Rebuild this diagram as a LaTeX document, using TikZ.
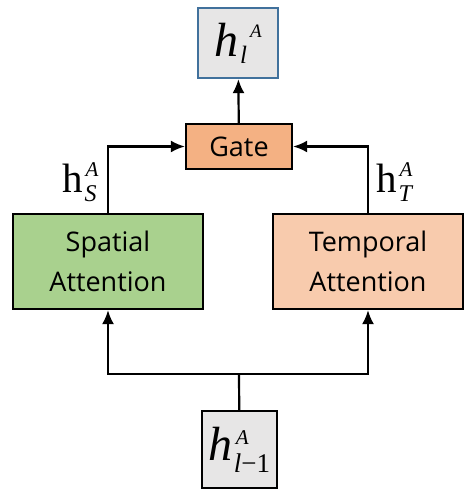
\documentclass[tikz,border=0pt]{standalone}
\usepackage{fontspec}
\setmainfont{Open Sans}
\newfontfamily\tnr{Liberation Serif}
\usetikzlibrary{arrows.meta}
\definecolor{gateOrange}{HTML}{F4B183}
\definecolor{spatGreen}{HTML}{A9D18E}
\definecolor{tempPeach}{HTML}{F8CBAD}
\definecolor{boxGray}{HTML}{E7E6E6}
\definecolor{boxBlue}{HTML}{41719C}
\newcommand{\fs}[1]{\fontsize{#1}{#1}\selectfont}
\begin{document}
\begin{tikzpicture}
        [x=1pt, y=1pt,
        block/.style={rectangle, draw, line width=2.2pt, inner sep=0pt, align=center, font=\fontsize{27}{40}\selectfont},
        hbox/.style={rectangle, draw, line width=2.2pt, inner sep=0pt, fill=boxGray, font=\tnr},
        lbl/.style={inner sep=0pt, font=\tnr},
        link/.style={line width=2.2pt},
        arrow/.style={line width=2.2pt, -{Latex[length=14pt,width=12pt]}}]
        \useasboundingbox (0,0) rectangle (474,497);
        \node[hbox, draw=boxBlue, minimum width=80pt, minimum height=70pt] (out) at (238,454)
            {{\fs{48}\itshape h}\kern2pt\raisebox{-7pt}{\fs{25}\itshape l}\kern3pt\raisebox{19pt}{\fs{19}\itshape A}};
        \node[block, fill=gateOrange, minimum width=106pt, minimum height=45pt] (gate) at (239,350.5) {Gate};
        \node[block, fill=spatGreen, minimum width=190pt, minimum height=95pt] (spat) at (108,235.5) {Spatial\\Attention};
        \node[block, fill=tempPeach, minimum width=190pt, minimum height=95pt] (temp) at (368,235.5) {Temporal\\Attention};
        \node[hbox, minimum width=75pt, minimum height=77pt] (in) at (239.5,47.5)
            {{\fs{48}\itshape h}\kern1pt\rlap{\raisebox{16pt}{\fs{21}\kern2pt\itshape A}}\raisebox{-12pt}{\fs{27}{\itshape l}−1}\raisebox{-6pt}{}};
        \coordinate (split) at (239,123);
        \node[lbl, anchor=base west] (hS) at (62,304)
            {{\fs{41}h}\rlap{\raisebox{16pt}{\fs{21}\kern3pt\itshape A}}\raisebox{-9pt}{\fs{24}\kern2pt\itshape S}};
        \node[lbl, anchor=base west] (hT) at (376,304)
            {{\fs{41}h}\rlap{\raisebox{16pt}{\fs{21}\kern3pt\itshape A}}\raisebox{-9pt}{\fs{24}\kern2pt\itshape T}};

        \draw[arrow] (gate) -- (out);
        \draw[arrow] (spat) |- (gate);
        \draw[arrow] (temp) |- (gate);
        \draw[link] (in) -- (split);
        \draw[arrow] (split) -| (spat);
        \draw[arrow] (split) -| (temp);
    \end{tikzpicture}
\end{document}
